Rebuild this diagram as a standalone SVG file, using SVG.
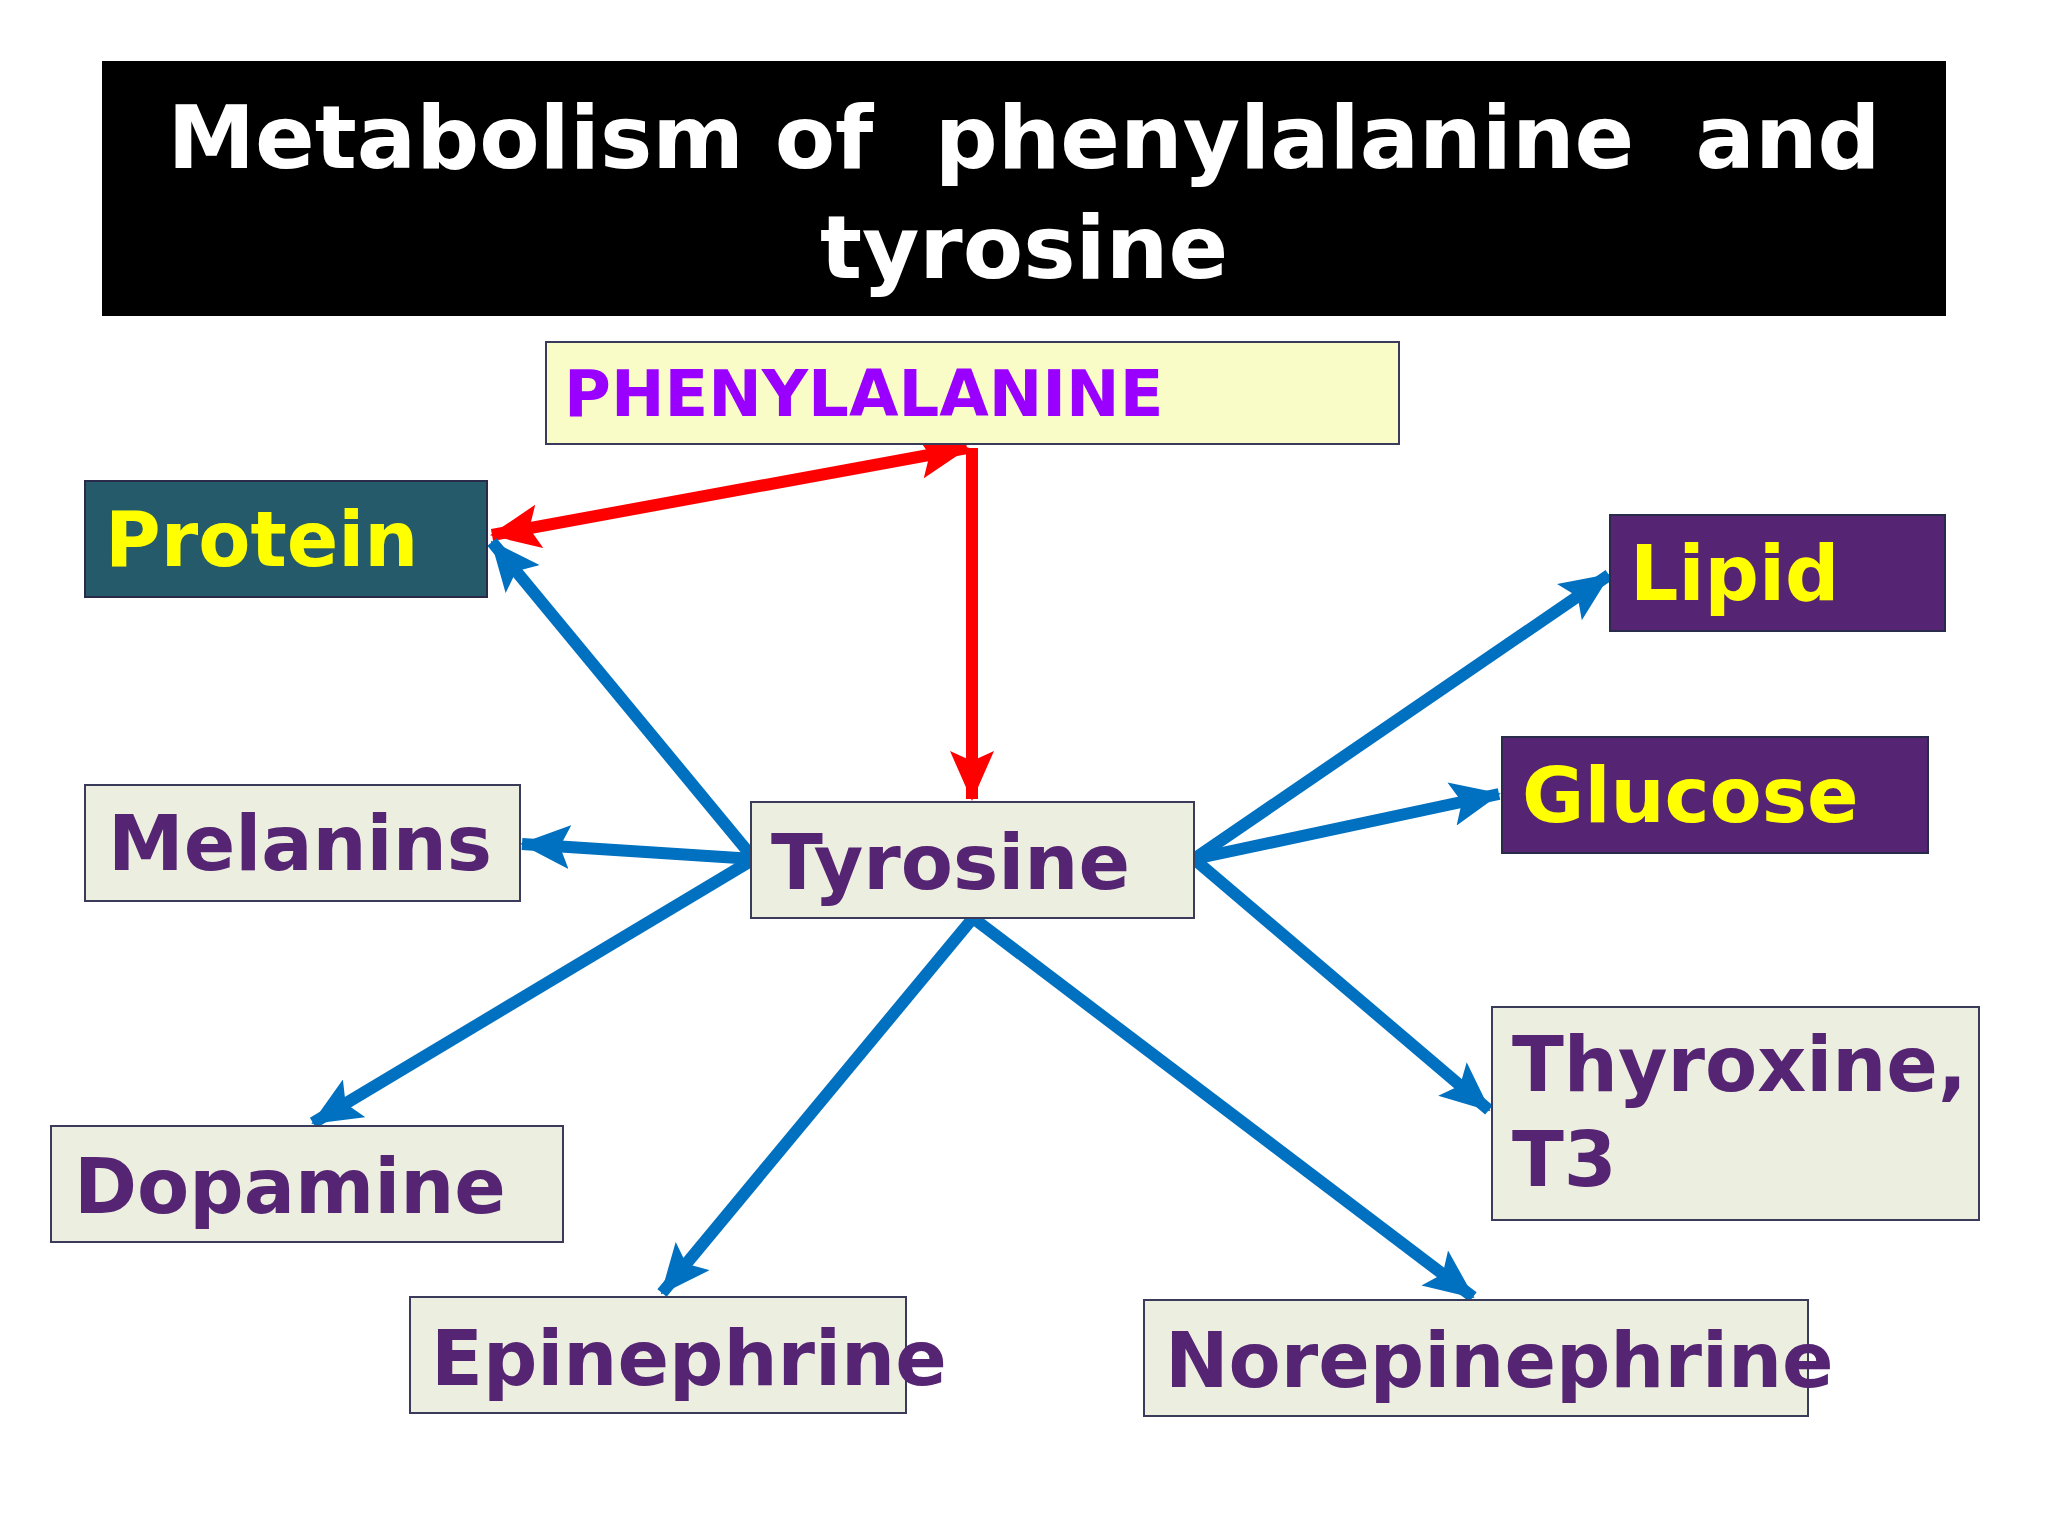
<svg xmlns="http://www.w3.org/2000/svg" width="2048" height="1536" viewBox="0 0 2048 1536">
<style>
.t{font-family:"DejaVu Sans","Noto Sans",sans-serif;font-weight:bold}
.pale{fill:#eceedf;stroke:#3a3a5a;stroke-width:2}
.dark{fill:#552473;stroke:#2a2a4a;stroke-width:2}
.lbl{fill:#552473;font-size:76px}
.ylw{fill:#ffff00;font-size:76px}
.b{stroke:#0070c0;stroke-width:12;fill:none}
.r{stroke:#ff0000;stroke-width:12;fill:none}
</style>
<defs>
<marker id="ab" viewBox="0 0 50 44" refX="48" refY="22" markerWidth="50" markerHeight="44" markerUnits="userSpaceOnUse" orient="auto-start-reverse"><path d="M0,0 L50,22 L0,44 L10,22 Z" fill="#0070c0"/></marker>
<marker id="ar" viewBox="0 0 50 44" refX="48" refY="22" markerWidth="50" markerHeight="44" markerUnits="userSpaceOnUse" orient="auto-start-reverse"><path d="M0,0 L50,22 L0,44 L10,22 Z" fill="#ff0000"/></marker>
</defs>
<rect width="2048" height="1536" fill="#fff"/>
<g id="title"><rect x="102" y="61" width="1844" height="255" fill="#000"/>
<text class="t" x="1024" y="168" text-anchor="middle" fill="#fff" font-size="88" xml:space="preserve">Metabolism of  phenylalanine  and</text>
<text class="t" x="1024" y="278" text-anchor="middle" fill="#fff" font-size="88">tyrosine</text></g>
<g id="connectors">
<line class="r" x1="492" y1="535" x2="967" y2="448" marker-start="url(#ar)" marker-end="url(#ar)"/>
<line class="r" x1="972" y1="448" x2="972" y2="799" marker-end="url(#ar)"/>
<line class="b" x1="754" y1="859" x2="492" y2="542" marker-end="url(#ab)"/>
<line class="b" x1="754" y1="859" x2="522" y2="844" marker-end="url(#ab)"/>
<line class="b" x1="754" y1="859" x2="313" y2="1123" marker-end="url(#ab)"/>
<line class="b" x1="973" y1="918" x2="662" y2="1293" marker-end="url(#ab)"/>
<line class="b" x1="973" y1="918" x2="1473" y2="1297" marker-end="url(#ab)"/>
<line class="b" x1="1194" y1="859" x2="1609" y2="575" marker-end="url(#ab)"/>
<line class="b" x1="1194" y1="859" x2="1499" y2="794" marker-end="url(#ab)"/>
<line class="b" x1="1194" y1="859" x2="1489" y2="1110" marker-end="url(#ab)"/>
</g>
<g id="phe"><rect x="546" y="342" width="853" height="102" fill="#fafcc8" stroke="#3a3a5a" stroke-width="2"/><text class="t" x="564" y="416" fill="#9900ff" font-size="64">PHENYLALANINE</text></g>
<g id="protein"><rect x="85" y="481" width="402" height="116" fill="#245a6a" stroke="#2a2a4a" stroke-width="2"/><text class="t ylw" x="105" y="566">Protein</text></g>
<g id="lipid"><rect class="dark" x="1610" y="515" width="335" height="116"/><text class="t ylw" x="1630" y="600">Lipid</text></g>
<g id="glucose"><rect class="dark" x="1502" y="737" width="426" height="116"/><text class="t ylw" x="1522" y="822">Glucose</text></g>
<g id="melanins"><rect class="pale" x="85" y="785" width="435" height="116"/><text class="t lbl" x="108" y="870">Melanins</text></g>
<g id="tyrosine"><rect class="pale" x="751" y="802" width="443" height="116"/><text class="t lbl" x="771" y="889">Tyrosine</text></g>
<g id="thyroxine"><rect class="pale" x="1492" y="1007" width="487" height="213"/><text class="t lbl" x="1512" y="1091">Thyroxine,</text><text class="t lbl" x="1512" y="1186">T3</text></g>
<g id="dopamine"><rect class="pale" x="51" y="1126" width="512" height="116"/><text class="t lbl" x="74" y="1213">Dopamine</text></g>
<g id="epinephrine"><rect class="pale" x="410" y="1297" width="496" height="116"/><text class="t lbl" x="431" y="1385">Epinephrine</text></g>
<g id="norepinephrine"><rect class="pale" x="1144" y="1300" width="664" height="116"/><text class="t lbl" x="1165" y="1387">Norepinephrine</text></g>
</svg>
